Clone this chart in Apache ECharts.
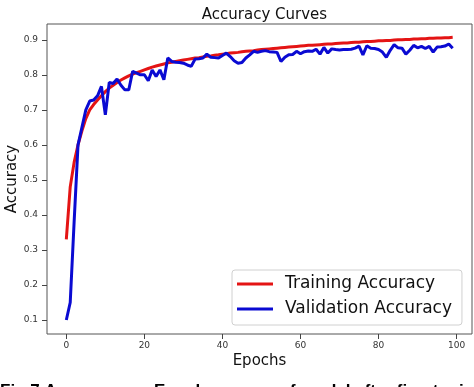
<!DOCTYPE html>
<html>
<head>
<meta charset="utf-8">
<script src="https://cdn.jsdelivr.net/npm/echarts@6/dist/echarts.min.js"></script>
<style>
html,body{margin:0;padding:0;background:#fff;overflow:hidden;}
#chart{width:474px;height:387px;}
</style>
</head>
<body>
<div id="chart"></div>
<script>
const titleText = "Accuracy Curves";
const xName = "Epochs";
const yName = "Accuracy";
const seriesNames = ["Training Accuracy", "Validation Accuracy"];
const captionText = "Fig.7 Accuracy vs. Epochs curves of model after fine-tuning";
const xTicks = [0, 20, 40, 60, 80, 100];
const yTicks = [0.1, 0.2, 0.3, 0.4, 0.5, 0.6, 0.7, 0.8, 0.9];

const trainAcc = [
  0.33, 0.48, 0.55, 0.60, 0.64, 0.675, 0.70, 0.715, 0.728, 0.74,
  0.752, 0.762, 0.77, 0.778, 0.785, 0.791, 0.797, 0.802, 0.806, 0.81,
  0.814, 0.818, 0.822, 0.825, 0.828, 0.831, 0.834, 0.836, 0.838, 0.84,
  0.842, 0.844, 0.846, 0.848, 0.849, 0.851, 0.853, 0.854, 0.856, 0.857,
  0.859, 0.86, 0.862, 0.863, 0.864, 0.866, 0.867, 0.868, 0.869, 0.871,
  0.872, 0.873, 0.874, 0.875, 0.876, 0.877, 0.878, 0.879, 0.88, 0.881,
  0.882, 0.883, 0.884, 0.884, 0.885, 0.886, 0.887, 0.888, 0.888, 0.889,
  0.89, 0.891, 0.891, 0.892, 0.893, 0.893, 0.894, 0.895, 0.895, 0.896,
  0.897, 0.897, 0.898, 0.898, 0.899, 0.9, 0.9, 0.901, 0.901, 0.902,
  0.902, 0.903, 0.903, 0.904, 0.904, 0.905, 0.905, 0.906, 0.906, 0.907
];
const valAcc = [
  0.10, 0.15, 0.38, 0.60, 0.65, 0.70, 0.725, 0.728, 0.74, 0.767,
  0.686, 0.778, 0.775, 0.788, 0.77, 0.757, 0.757, 0.81, 0.805, 0.80,
  0.80, 0.783, 0.814, 0.795, 0.814, 0.786, 0.848, 0.838, 0.836, 0.835,
  0.833, 0.828, 0.824, 0.845, 0.846, 0.848, 0.859, 0.85, 0.849, 0.848,
  0.855, 0.862, 0.852, 0.84, 0.833, 0.835, 0.848, 0.857, 0.867, 0.864,
  0.867, 0.869, 0.866, 0.865, 0.864, 0.838, 0.85, 0.857, 0.858, 0.867,
  0.86, 0.866, 0.868, 0.867, 0.873, 0.859, 0.878, 0.862, 0.874, 0.872,
  0.871, 0.872, 0.872, 0.873, 0.876, 0.882, 0.857, 0.883, 0.876, 0.875,
  0.872, 0.865, 0.85, 0.87, 0.886, 0.877, 0.876, 0.859, 0.87, 0.884,
  0.877, 0.881, 0.875, 0.881, 0.865, 0.879, 0.88, 0.882, 0.888, 0.876
];

const epochs = trainAcc.map((_, i) => i);
const trainData = epochs.map(i => [i, trainAcc[i]]);
const valData = epochs.map(i => [i, valAcc[i]]);

const font = "DejaVu Sans";
const chart = echarts.init(document.getElementById('chart'), null, {renderer: 'canvas'});
chart.setOption({
  animation: false,
  backgroundColor: '#ffffff',
  title: {
    text: titleText,
    left: 259.5, top: 3, textAlign: 'center',
    textStyle: {fontFamily: font, fontSize: 15, fontWeight: 'normal', color: '#111'}
  },
  grid: {
    left: 47, top: 24, right: 2, bottom: 53,
    containLabel: false, outerBoundsMode: 'none',
    show: true, borderColor: '#555', borderWidth: 1, backgroundColor: 'transparent'
  },
  legend: {
    orient: 'vertical',
    left: 232, top: 270,
    padding: [4, 10, 6, 5],
    itemGap: 5,
    itemWidth: 36, itemHeight: 3,
    icon: 'rect',
    borderColor: '#d0d0d0', borderWidth: 1, borderRadius: 3,
    backgroundColor: '#ffffff',
    selectedMode: false,
    textStyle: {fontFamily: font, fontSize: 17, color: '#111', lineHeight: 20, padding: [0, 0, 0, 7]},
    data: seriesNames
  },
  xAxis: {
    type: 'value', min: -4.95, max: 103.95,
    name: xName, nameLocation: 'middle', nameGap: 20, nameMoveOverlap: false,
    nameTextStyle: {fontFamily: font, fontSize: 15, color: '#111'},
    axisLine: {show: false, onZero: false},
    splitLine: {show: false},
    axisTick: {show: true, length: 5, lineStyle: {color: '#444'}, customValues: xTicks},
    axisLabel: {fontFamily: font, fontSize: 9, color: '#333', margin: 7, customValues: xTicks}
  },
  yAxis: {
    type: 'value', min: 0.06, max: 0.945,
    name: yName, nameLocation: 'middle', nameGap: 27, nameRotate: 90, nameMoveOverlap: false,
    nameTextStyle: {fontFamily: font, fontSize: 15, color: '#111'},
    axisLine: {show: false, onZero: false},
    splitLine: {show: false},
    axisTick: {show: true, length: 5, lineStyle: {color: '#444'}, customValues: yTicks},
    axisLabel: {fontFamily: font, fontSize: 9, color: '#333', margin: 9,
      customValues: yTicks, formatter: v => v.toFixed(1)}
  },
  graphic: [{
    type: 'text', left: 0, top: 383,
    style: {text: captionText, fontFamily: 'Liberation Sans', fontSize: 17, fontWeight: 'bold', fill: '#000'}
  }],
  series: [
    {name: seriesNames[0], type: 'line', data: trainData, showSymbol: false,
     lineStyle: {width: 3, color: '#e41414'}, itemStyle: {color: '#e41414'}},
    {name: seriesNames[1], type: 'line', data: valData, showSymbol: false,
     lineStyle: {width: 3, color: '#0a0ad2'}, itemStyle: {color: '#0a0ad2'}}
  ]
});
</script>
</body>
</html>
